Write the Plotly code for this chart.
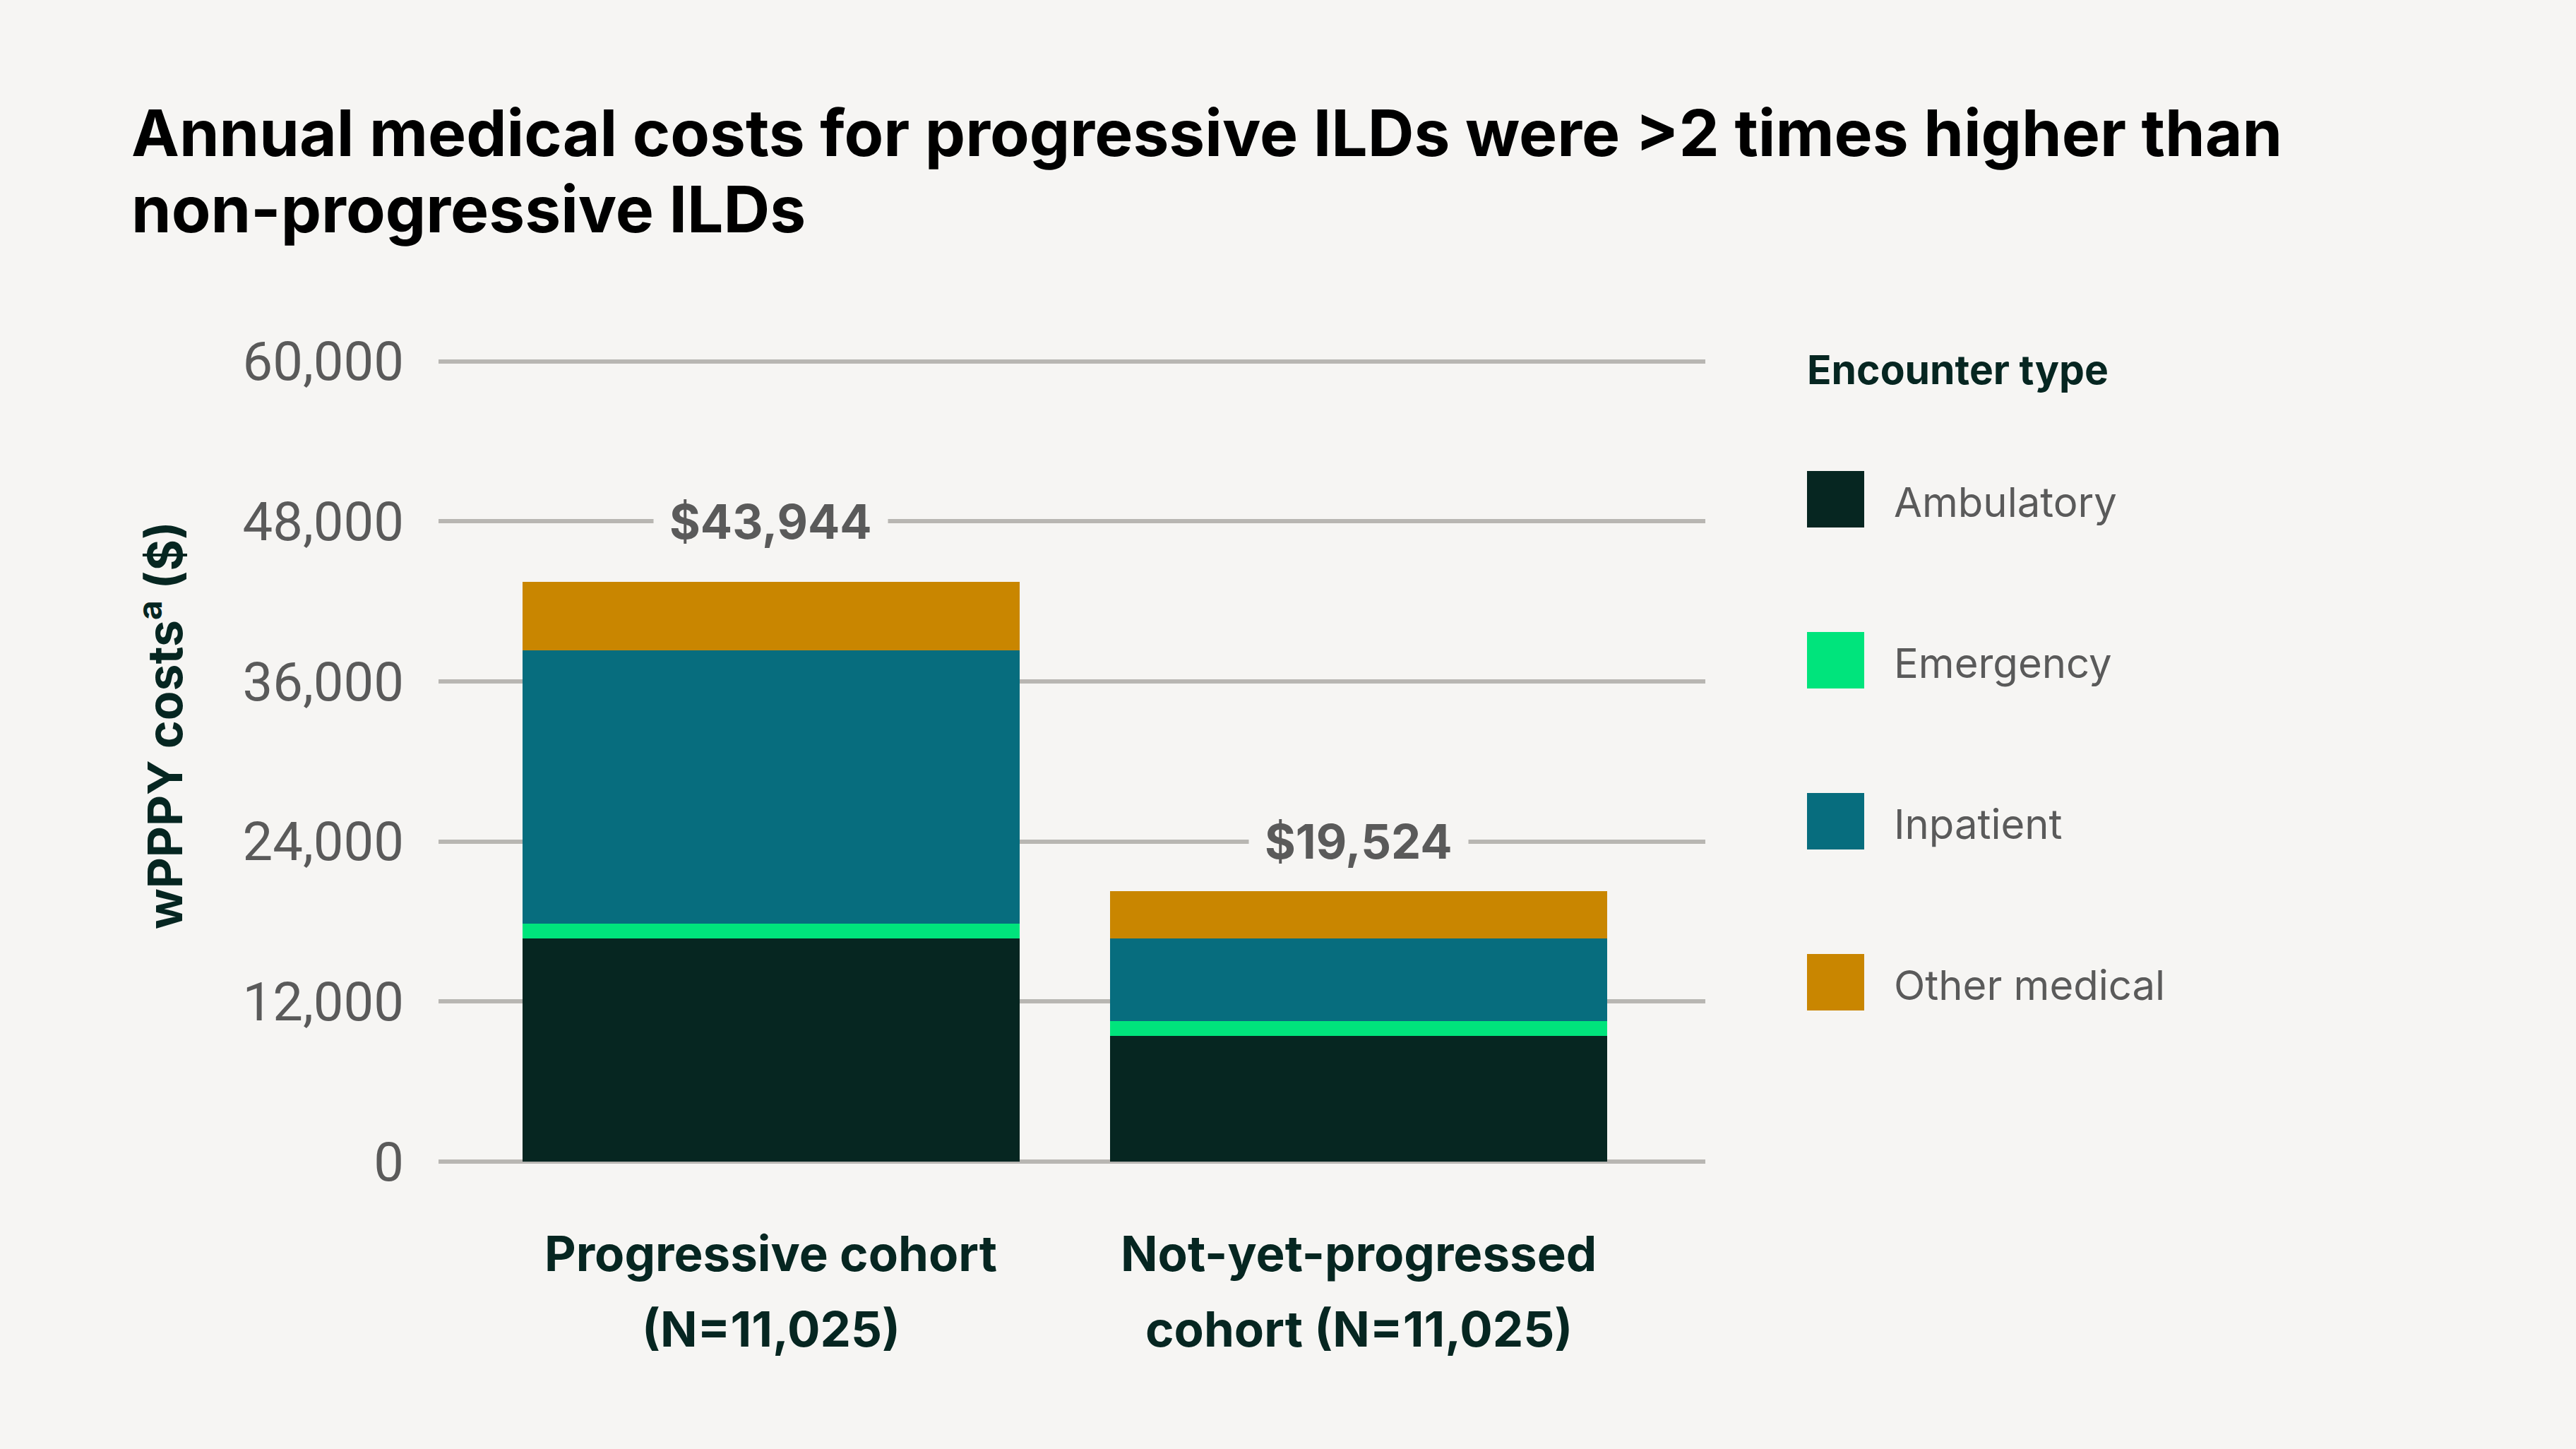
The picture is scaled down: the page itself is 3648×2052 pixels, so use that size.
import plotly.graph_objects as go
import math

# ---------------- data ----------------
title_lines = ["Annual medical costs for progressive ILDs were >2 times higher than", "non-progressive ILDs"]
categories = ["Progressive cohort<br>(N=11,025)", "Not-yet-progressed<br>cohort (N=11,025)"]
series_names = ["Ambulatory", "Emergency", "Inpatient", "Other medical"]
ambulatory = [16750, 9450]
emergency = [1100, 1100]
inpatient = [20500, 6200]
other_medical = [5100, 3550]
total_labels = ["$43,944", "$19,524"]
y_ticks = [0, 12000, 24000, 36000, 48000, 60000]
y_tick_labels = ["0", "12,000", "24,000", "36,000", "48,000", "60,000"]

colors = ["#062621", "#00e47c", "#076d7e", "#c98600"]
series_values = [ambulatory, emergency, inpatient, other_medical]

BG = "#f6f5f3"
DARK = "#062621"
GRAY = "#5a5a5a"
GRID = "#b8b6b2"

W, H = 3648, 2052
YMAX = 60250
L, R, B = 621, W - 2415, H - 1645
T = int(round(512 - (YMAX - 60000) * (1645 - 512) / 60000))
PW, PH = W - L - R, H - T - B


def px_x(px):
    return (px - L) / PW


def px_y(py):
    return (H - B - py) / PH


fig = go.Figure()
xs = list(range(len(categories)))
for name, vals, col in zip(series_names, series_values, colors):
    fig.add_trace(go.Bar(x=xs, y=vals, name=name, marker=dict(color=col, line=dict(width=0)),
                         width=0.847, showlegend=False, hoverinfo="y+name"))

annotations = []
# title
for j, ln in enumerate(title_lines):
    annotations.append(dict(x=px_x(184), y=px_y(188 + 108 * j), xref="paper", yref="paper",
                            text="<b>" + ln + "</b>", showarrow=False,
                            font=dict(family="Inter", size=91, color="#000000"),
                            xanchor="left", yanchor="middle"))

# value labels sitting on the gridline just above each stack
totals = [sum(v[i] for v in series_values) for i in xs]
for i, (t, lab) in enumerate(zip(totals, total_labels)):
    gy = math.ceil(t / 12000) * 12000
    annotations.append(dict(x=i, y=gy, xref="x", yref="y", text="<b>" + lab + "</b>", showarrow=False,
                            font=dict(family="Inter", size=67, color=GRAY), bgcolor=BG, borderpad=22,
                            xanchor="center", yanchor="middle"))

# category labels (two lines)
for i, cat in enumerate(categories):
    lines = cat.split("<br>")
    for j, ln in enumerate(lines):
        annotations.append(dict(x=i, y=px_y(1775 + 107 * j), xref="x", yref="paper", text="<b>" + ln + "</b>",
                                showarrow=False, font=dict(family="Inter", size=69, color=DARK),
                                xanchor="center", yanchor="middle"))

# y axis title
annotations.append(dict(x=px_x(228), y=px_y(1027), xref="paper", yref="paper",
                        text="<b>wPPPY costs<sup>a</sup> ($)</b>", textangle=-90, showarrow=False,
                        font=dict(family="Inter", size=68, color=DARK), xanchor="center", yanchor="middle"))

# legend (manual)
annotations.append(dict(x=px_x(2557), y=px_y(523), xref="paper", yref="paper", text="<b>Encounter type</b>",
                        showarrow=False, font=dict(family="Inter", size=57, color=DARK),
                        xanchor="left", yanchor="middle"))
shapes = []
for k, (name, col) in enumerate(zip(series_names, colors)):
    cy = 707 + 228 * k
    shapes.append(dict(type="rect", xref="paper", yref="paper", x0=px_x(2559), x1=px_x(2640),
                       y0=px_y(cy + 40), y1=px_y(cy - 40), fillcolor=col, line=dict(width=0)))
    annotations.append(dict(x=px_x(2680), y=px_y(cy + 4), xref="paper", yref="paper", text=name,
                            showarrow=False, font=dict(family="Inter", size=58, color=GRAY),
                            xanchor="left", yanchor="middle"))

fig.update_layout(
    width=W, height=H,
    margin=dict(l=L, r=R, t=T, b=B),
    paper_bgcolor=BG, plot_bgcolor=BG,
    barmode="stack",
    bargap=0,
    xaxis=dict(range=[-0.566, 1.590], showticklabels=False, showgrid=False, zeroline=False,
               showline=False, ticks="", fixedrange=True),
    yaxis=dict(range=[0, YMAX], tickvals=y_ticks, ticktext=y_tick_labels, showgrid=True,
               gridcolor=GRID, gridwidth=6, zeroline=True, zerolinecolor=GRID, zerolinewidth=6,
               showline=False, ticks="",
               tickfont=dict(family="Roboto", size=76, color=GRAY), ticklabelstandoff=48),
    annotations=annotations,
    shapes=shapes,
    font=dict(family="Inter"),
)

fig.write_html("out.html")
